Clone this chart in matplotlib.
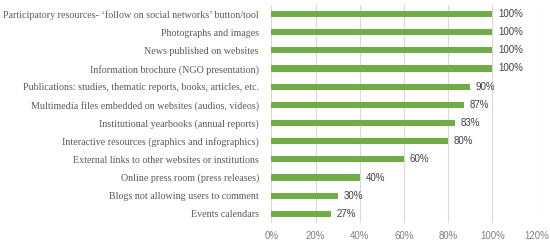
import matplotlib
matplotlib.use("Agg")
import matplotlib.pyplot as plt
from matplotlib.ticker import FuncFormatter

categories = [
    "Participatory resources- \u2018follow on social networks\u2019 button/tool",
    "Photographs and images",
    "News published on websites",
    "Information brochure (NGO presentation)",
    "Publications: studies, thematic reports, books, articles, etc.",
    "Multimedia files embedded on websites (audios, videos)",
    "Institutional yearbooks (annual reports)",
    "Interactive resources (graphics and infographics)",
    "External links to other websites or institutions",
    "Online press room (press releases)",
    "Blogs not allowing users to comment",
    "Events calendars",
]
values = [100, 100, 100, 100, 90, 87, 83, 80, 60, 40, 30, 27]
xticks = [0, 20, 40, 60, 80, 100, 120]

fig = plt.figure(figsize=(5.5, 2.43), dpi=100)
ax = fig.add_axes([0.4936, 0.0823, 0.4822, 0.8977])

n = len(categories)
ypos = list(range(n))
ax.barh(ypos, values, height=0.34, color="#70AD47", zorder=3)
ax.set_ylim(n - 0.5, -0.5)
ax.set_xlim(0, 120)
ax.set_xticks(xticks)
ax.xaxis.set_major_formatter(FuncFormatter(lambda v, p: f"{int(v)}%"))
ax.set_yticks(ypos)
ax.set_yticklabels(categories, family="Liberation Serif", fontsize=7.2, color="#595959")
ax.tick_params(axis="both", length=0)
ax.tick_params(axis="y", pad=9)
ax.tick_params(axis="x", pad=6)
for lab in ax.get_xticklabels():
    lab.set_family("Liberation Sans")
    lab.set_fontsize(6.9)
    lab.set_color("#7F7F7F")
ax.grid(axis="x", color="#D9D9D9", linewidth=0.8, zorder=0)
for s in ax.spines.values():
    s.set_visible(False)
for y, v in zip(ypos, values):
    ax.text(v + 2.5, y, f"{v}%", va="center", ha="left", fontsize=7,
            family="Liberation Sans", color="#404040")

fig.savefig("out.png", dpi=100)
